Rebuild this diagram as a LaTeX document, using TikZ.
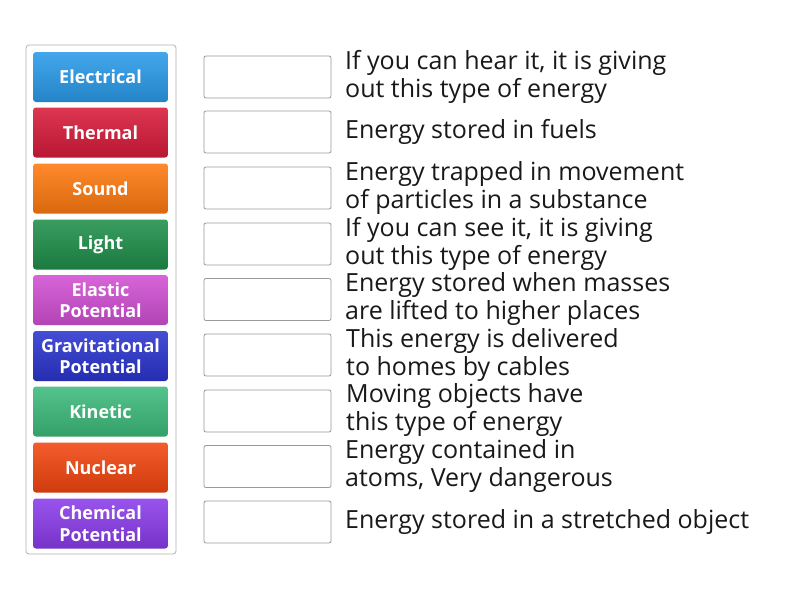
\documentclass[tikz,border=0pt]{standalone}
\usepackage{fontspec}
\setmainfont{Open Sans}
\definecolor{cElec}{HTML}{2A9BEA}
\definecolor{cTherm}{HTML}{D81B3A}
\definecolor{cSound}{HTML}{FF7A10}
\definecolor{cLight}{HTML}{1F8F4A}
\definecolor{cElast}{HTML}{D250D4}
\definecolor{cGrav}{HTML}{2B35CF}
\definecolor{cKin}{HTML}{3DBB7C}
\definecolor{cNuc}{HTML}{F34610}
\definecolor{cChem}{HTML}{8B3CEB}
\tikzset{
  btn/.style={rounded corners=3pt, minimum width=135pt, minimum height=50pt, inner sep=0pt,
    top color=#1!88!white, bottom color=#1!85!black, draw=none,
    text=white, font=\fontsize{18}{21.5}\selectfont\bfseries, align=center},
  slot/.style={draw=black!40, line width=0.8pt, rounded corners=2pt, fill=white,
    minimum width=127pt, minimum height=42pt, inner sep=0pt},
  desc/.style={anchor=west, inner sep=0pt, align=left, text=black!90,
    font=\fontsize{25}{28}\selectfont},
  panel/.style={draw=black!30, line width=0.8pt, rounded corners=3pt, fill=white}
}
\begin{document}
\begin{tikzpicture}[x=1pt,y=-1pt]
\useasboundingbox (0,0) rectangle (800,600);
\fill[white] (0,0) rectangle (800,600);
\draw[panel] (26,45) rectangle (176,554);
\node[btn=cElec]  (b1) at (100.5,77)  {Electrical};
\node[btn=cTherm] (b2) at (100.5,132.5) {Thermal};
\node[btn=cSound] (b3) at (100.5,188.5) {Sound};
\node[btn=cLight] (b4) at (100.5,244.5) {Light};
\node[btn=cElast] (b5) at (100.5,300) {Elastic\\Potential};
\node[btn=cGrav]  (b6) at (100.5,356) {Gravitational\\Potential};
\node[btn=cKin]   (b7) at (100.5,411.5) {Kinetic};
\node[btn=cNuc]   (b8) at (100.5,467.5) {Nuclear};
\node[btn=cChem]  (b9) at (100.5,523.5) {Chemical\\Potential};
\foreach \i/\y in {1/77,2/132,3/188,4/244,5/299.5,6/355,7/411,8/466.5,9/522}{
  \node[slot] (s\i) at (267.5,\y) {};
}
\node[desc] (t1) at (345,77)  {If you can hear it, it is giving\\out this type of energy};
\node[desc] (t2) at (345,132) {Energy stored in fuels};
\node[desc] (t3) at (345,188) {Energy trapped in movement\\of particles in a substance};
\node[desc] (t4) at (345,244) {If you can see it, it is giving\\out this type of energy};
\node[desc] (t5) at (345,299) {Energy stored when masses\\are lifted to higher places};
\node[desc] (t6) at (346,355) {This energy is delivered\\to homes by cables};
\node[desc] (t7) at (346,410) {Moving objects have\\this type of energy};
\node[desc] (t8) at (345,466) {Energy contained in\\atoms, Very dangerous};
\node[desc] (t9) at (345,522) {Energy stored in a stretched object};
\end{tikzpicture}
\end{document}
